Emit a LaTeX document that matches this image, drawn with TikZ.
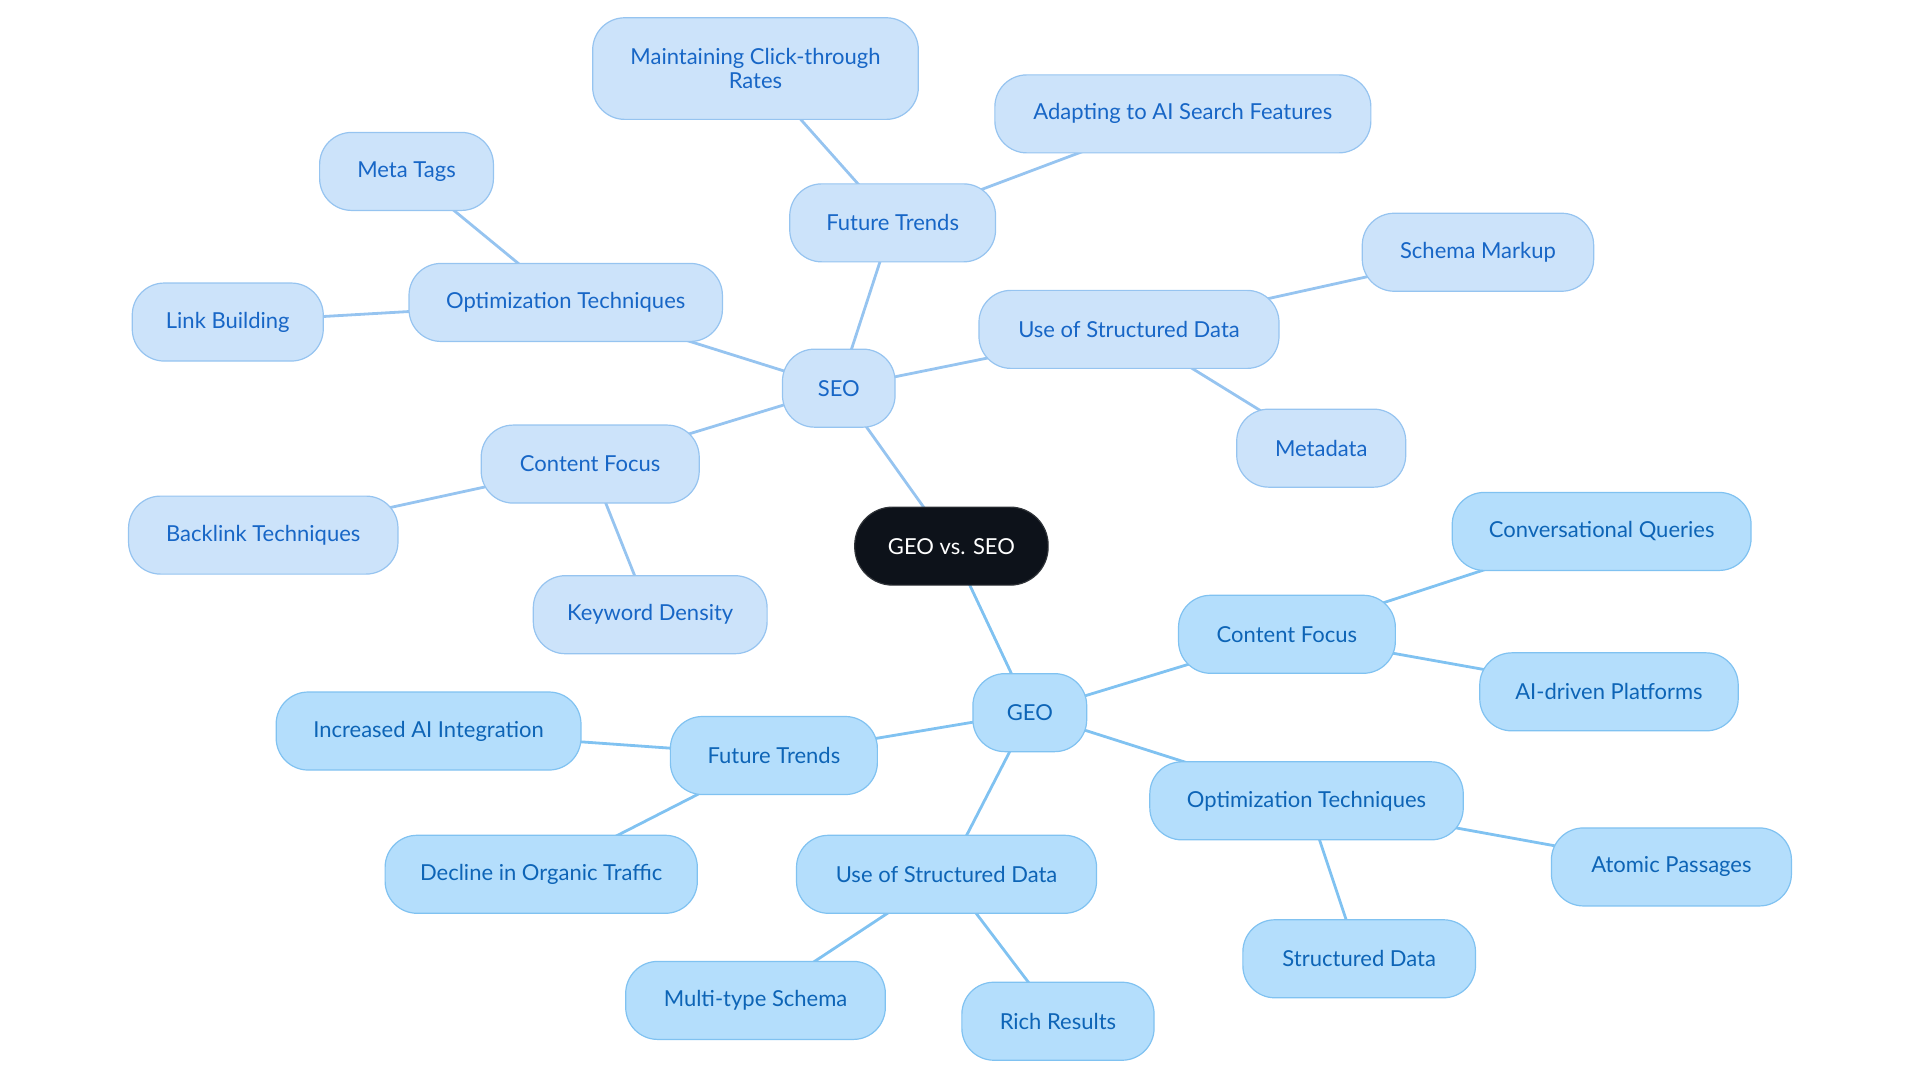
\documentclass[tikz,border=0pt]{standalone}
\usepackage{fontspec}
\setmainfont{Lato}
\usetikzlibrary{backgrounds}
\definecolor{seofill}{HTML}{CCE3FA}
\definecolor{seodraw}{HTML}{96C4F0}
\definecolor{seotext}{HTML}{1766C6}
\definecolor{geofill}{HTML}{B4DEFC}
\definecolor{geodraw}{HTML}{80C2F1}
\definecolor{geotext}{HTML}{0D64B6}
\definecolor{rootfill}{HTML}{0D121A}
\tikzset{
  base/.style={rounded corners=16pt, minimum height=39pt, inner sep=2pt, align=center, font=\fontsize{11}{12.2}\selectfont, line width=0.6pt},
  seo/.style={base, fill=seofill, draw=seodraw, text=seotext},
  geo/.style={base, fill=geofill, draw=geodraw, text=geotext},
  root/.style={base, rounded corners=19pt, fill=rootfill, draw=rootfill!70!gray, text=white},
  seoline/.style={draw=seodraw, line width=1.4pt},
  geoline/.style={draw=geodraw, line width=1.4pt},
}
\begin{document}
\begin{tikzpicture}[x=0.6122pt, y=-0.6122pt]
\useasboundingbox (0,0) rectangle (1568,884);
\node[root, minimum width=96.7pt] (c) at (777,446) {GEO vs. SEO};
% SEO
\node[seo, minimum width=56.3pt] (seo) at (685,317) {SEO};
\node[seo, minimum width=102.9pt] (sft) at (729,182) {Future Trends};
\node[seo, minimum width=162.8pt, minimum height=50.8pt] (mct) at (617,56) {Maintaining Click-through\\Rates};
\node[seo, minimum width=188pt] (aai) at (966,93) {Adapting to AI Search Features};
\node[seo, minimum width=156.7pt] (sot) at (462,247) {Optimization Techniques};
\node[seo, minimum width=86.9pt] (mt) at (332,140) {Meta Tags};
\node[seo, minimum width=95.5pt] (lb) at (186,263) {Link Building};
\node[seo, minimum width=150pt] (sud) at (922,269) {Use of Structured Data};
\node[seo, minimum width=115.7pt] (sm) at (1207,206) {Schema Markup};
\node[seo, minimum width=84.5pt] (md) at (1079,366) {Metadata};
\node[seo, minimum width=109pt] (scf) at (482,379) {Content Focus};
\node[seo, minimum width=134.7pt] (bt) at (215,437) {Backlink Techniques};
\node[seo, minimum width=116.9pt] (kd) at (531,502) {Keyword Density};
% GEO
\node[geo, minimum width=56.9pt] (geo) at (841,582) {GEO};
\node[geo, minimum width=108.4pt] (gcf) at (1051,518) {Content Focus};
\node[geo, minimum width=149.4pt] (cq) at (1308,434) {Conversational Queries};
\node[geo, minimum width=129.2pt] (adp) at (1314,565) {AI-driven Platforms};
\node[geo, minimum width=156.7pt] (got) at (1067,654) {Optimization Techniques};
\node[geo, minimum width=120pt] (ap) at (1365,708) {Atomic Passages};
\node[geo, minimum width=116.3pt] (sd) at (1110,783) {Structured Data};
\node[geo, minimum width=150pt] (gud) at (773,714) {Use of Structured Data};
\node[geo, minimum width=129.8pt] (mts) at (617,817) {Multi-type Schema};
\node[geo, minimum width=96.1pt] (rr) at (864,834) {Rich Results};
\node[geo, minimum width=103.5pt] (gft) at (632,617) {Future Trends};
\node[geo, minimum width=152.4pt] (iai) at (350,597) {Increased AI Integration};
\node[geo, minimum width=156.1pt] (dot) at (442,714) {Decline in Organic Traffic};
\begin{pgfonlayer}{background}
\draw[seoline] (c.center) -- (seo.center);
\draw[seoline] (seo.center) -- (sft.center);
\draw[seoline] (sft.center) -- (mct.center);
\draw[seoline] (sft.center) -- (aai.center);
\draw[seoline] (seo.center) -- (sot.center);
\draw[seoline] (sot.center) -- (mt.center);
\draw[seoline] (sot.center) -- (lb.center);
\draw[seoline] (seo.center) -- (sud.center);
\draw[seoline] (sud.center) -- (sm.center);
\draw[seoline] (sud.center) -- (md.center);
\draw[seoline] (seo.center) -- (scf.center);
\draw[seoline] (scf.center) -- (bt.center);
\draw[seoline] (scf.center) -- (kd.center);
\draw[geoline] (c.center) -- (geo.center);
\draw[geoline] (geo.center) -- (gcf.center);
\draw[geoline] (gcf.center) -- (cq.center);
\draw[geoline] (gcf.center) -- (adp.center);
\draw[geoline] (geo.center) -- (got.center);
\draw[geoline] (got.center) -- (ap.center);
\draw[geoline] (got.center) -- (sd.center);
\draw[geoline] (geo.center) -- (gud.center);
\draw[geoline] (gud.center) -- (mts.center);
\draw[geoline] (gud.center) -- (rr.center);
\draw[geoline] (geo.center) -- (gft.center);
\draw[geoline] (gft.center) -- (iai.center);
\draw[geoline] (gft.center) -- (dot.center);
\end{pgfonlayer}
\end{tikzpicture}
\end{document}
